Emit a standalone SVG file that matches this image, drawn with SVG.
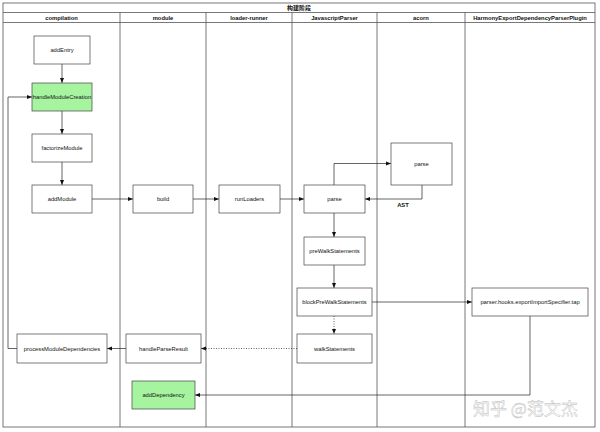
<svg xmlns="http://www.w3.org/2000/svg" width="600" height="432" viewBox="0 0 600 432">
<style>
.frame{fill:none;stroke:#555;stroke-width:0.8}
.box{fill:#fff;stroke:#444;stroke-width:0.7}
.green{fill:#a6f3a0;stroke:#444;stroke-width:0.7}
.t{font-family:"Liberation Sans",Arial,sans-serif;font-size:5.8px;fill:#111;text-anchor:middle;dominant-baseline:central}
.h{font-family:"Liberation Sans",Arial,sans-serif;font-size:5.8px;font-weight:bold;fill:#111;text-anchor:middle;dominant-baseline:central}
.cj{font-family:"Liberation Sans","Noto Sans CJK SC",sans-serif;font-size:6px;font-weight:bold;fill:#111;text-anchor:middle;dominant-baseline:central}
.ln{fill:none;stroke:#222;stroke-width:0.7}
.dot{fill:none;stroke:#222;stroke-width:0.7;stroke-dasharray:1,1.5}
.wm{font-family:"Noto Sans CJK SC",sans-serif;font-size:17px;fill:#fafafa;stroke:#bbb;stroke-width:0.4}
</style>
<defs>
<marker id="a" viewBox="0 0 10 10" refX="10" refY="5" markerWidth="5" markerHeight="5" orient="auto" markerUnits="userSpaceOnUse">
<path d="M0,1 L10,5 L0,9 Z" fill="#111"/>
</marker>
</defs>
<rect width="600" height="432" fill="#fff"/>
<g id="pool">
<rect class="frame" x="3" y="3" width="592" height="424"/>
<line class="frame" x1="3" y1="12.5" x2="595" y2="12.5"/>
<line class="frame" x1="3" y1="22.5" x2="595" y2="22.5"/>
<line class="frame" x1="120" y1="12.5" x2="120" y2="427"/>
<line class="frame" x1="206" y1="12.5" x2="206" y2="427"/>
<line class="frame" x1="292" y1="12.5" x2="292" y2="427"/>
<line class="frame" x1="377" y1="12.5" x2="377" y2="427"/>
<line class="frame" x1="465" y1="12.5" x2="465" y2="427"/>
<text class="cj" x="299" y="7.8">构建阶段</text>
<text class="h" x="61.5" y="17.8">compilation</text>
<text class="h" x="163" y="17.8">module</text>
<text class="h" x="249" y="17.8">loader-runner</text>
<text class="h" x="334.5" y="17.8">JavascriptParser</text>
<text class="h" x="421" y="17.8">acorn</text>
<text class="h" x="530" y="17.8">HarmonyExportDependencyParserPlugin</text>
</g>
<g id="connectors">
<line class="ln" x1="62" y1="64" x2="62" y2="83" marker-end="url(#a)"/>
<line class="ln" x1="62" y1="111" x2="62" y2="134" marker-end="url(#a)"/>
<line class="ln" x1="62" y1="162" x2="62" y2="185" marker-end="url(#a)"/>
<line class="ln" x1="92" y1="199" x2="133" y2="199" marker-end="url(#a)"/>
<line class="ln" x1="193" y1="199" x2="219" y2="199" marker-end="url(#a)"/>
<line class="ln" x1="280" y1="199" x2="304" y2="199" marker-end="url(#a)"/>
<polyline class="ln" points="334,185 334,163.5 391,163.5" marker-end="url(#a)"/>
<polyline class="ln" points="422,185 422,199 365,199" marker-end="url(#a)"/>
<line class="ln" x1="334" y1="213" x2="334" y2="237" marker-end="url(#a)"/>
<line class="ln" x1="334" y1="265" x2="334" y2="288" marker-end="url(#a)"/>
<line class="dot" x1="334" y1="316" x2="334" y2="334" marker-end="url(#a)"/>
<line class="ln" x1="372" y1="302" x2="472" y2="302" marker-end="url(#a)"/>
<line class="dot" x1="297" y1="348.5" x2="201" y2="348.5" marker-end="url(#a)"/>
<line class="ln" x1="126" y1="348.5" x2="107" y2="348.5" marker-end="url(#a)"/>
<polyline class="ln" points="17,348.5 8,348.5 8,97 32,97" marker-end="url(#a)"/>
<polyline class="ln" points="530,316 530,395 195,395" marker-end="url(#a)"/>
<text class="h" x="403" y="205">AST</text>
</g>
<g id="addEntry"><rect class="box" x="34" y="36" width="56" height="28"/><text class="t" x="62" y="50">addEntry</text></g>
<g id="handleModuleCreation"><rect class="green" x="32" y="83" width="60" height="28"/><text class="t" x="62" y="97">handleModuleCreation</text></g>
<g id="factorizeModule"><rect class="box" x="32" y="134" width="60" height="28"/><text class="t" x="62" y="148">factorizeModule</text></g>
<g id="addModule"><rect class="box" x="32" y="185" width="60" height="28"/><text class="t" x="62" y="199">addModule</text></g>
<g id="build"><rect class="box" x="133" y="185" width="60" height="28"/><text class="t" x="163" y="199">build</text></g>
<g id="runLoaders"><rect class="box" x="219" y="185" width="61" height="28"/><text class="t" x="249.5" y="199">runLoaders</text></g>
<g id="parseJS"><rect class="box" x="304" y="185" width="61" height="28"/><text class="t" x="334.5" y="199">parse</text></g>
<g id="parseAcorn"><rect class="box" x="391" y="143" width="61" height="42"/><text class="t" x="421.5" y="164">parse</text></g>
<g id="preWalkStatements"><rect class="box" x="304" y="237" width="61" height="28"/><text class="t" x="334.5" y="251">preWalkStatements</text></g>
<g id="blockPreWalkStatements"><rect class="box" x="297" y="288" width="75" height="28"/><text class="t" x="334.5" y="302">blockPreWalkStatements</text></g>
<g id="walkStatements"><rect class="box" x="297" y="334" width="75" height="29"/><text class="t" x="334.5" y="348.5">walkStatements</text></g>
<g id="exportImportSpecifier"><rect class="box" x="472" y="288" width="116" height="28"/><text class="t" x="530" y="302">parser.hooks.exportImportSpecifier.tap</text></g>
<g id="processModuleDependencies"><rect class="box" x="17" y="334" width="90" height="29"/><text class="t" x="62" y="348.5">processModuleDependencies</text></g>
<g id="handleParseResult"><rect class="box" x="126" y="334" width="75" height="29"/><text class="t" x="163.5" y="348.5">handleParseResult</text></g>
<g id="addDependency"><rect class="green" x="132" y="381" width="63" height="28"/><text class="t" x="163.5" y="395">addDependency</text></g>
<text class="wm" x="473" y="415">知乎 @范文杰</text>
</svg>
